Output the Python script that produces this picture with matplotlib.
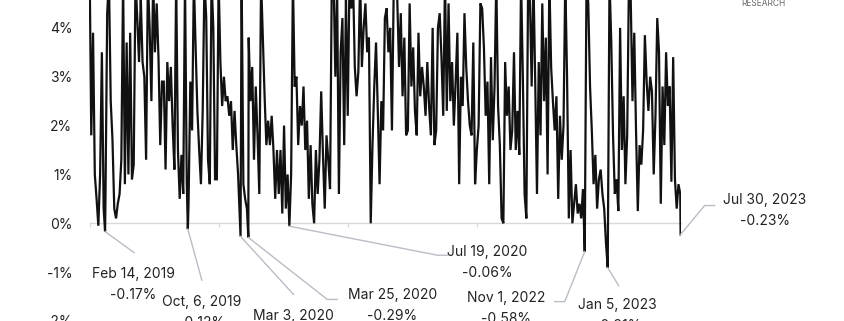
import pandas as pd
import numpy as np
import matplotlib.pyplot as plt
import matplotlib.dates as mdates
from matplotlib.lines import Line2D
from matplotlib.transforms import IdentityTransform

plt.rcParams['font.family'] = ['Inter', 'DejaVu Sans']

# rate (%) every 5 days from 2019-01-01 (tops are clipped)
start_date = '2019-01-01'
rate_vals = [
    5.5, 1.8, 3.9, 1.0, 0.5, -0.05,
    1.0, 3.5, 0.3, 0.4, 4.3, 5.0,
    2.5, 1.7, 0.3, 0.1, 0.4, 0.6,
    1.3, 5.0, 0.8, 3.7, 1.0, 3.9,
    0.9, 1.2, 5.0, 4.2, 3.3, 4.6,
    3.3, 3.0, 1.3, 5.0, 4.0, 2.5,
    5.0, 3.5, 4.5, 3.4, 1.6, 2.9,
    2.9, 1.1, 3.3, 2.5, 3.2, 2.0,
    1.1, 5.0, 1.5, 0.5, 1.4, 0.6,
    5.0, 0.8, 0.4, 2.9, 1.9, 5.0,
    3.6, 2.3, 1.5, 0.8, 2.3, 5.0,
    4.2, 1.3, 0.8, 5.0, 4.0, 0.9,
    0.9, 5.0, 3.3, 2.4, 3.0, 2.5,
    2.6, 2.2, 2.5, 1.5, 2.3, 1.6,
    1.0, 0.1, 5.0, 0.8, 0.5, 0.3,
    3.8, 2.5, 3.2, 1.3, 2.8, 1.8,
    0.6, 5.0, 3.8, 2.6, 1.6, 2.1,
    1.6, 2.2, 1.5, 0.5, 1.5, 0.6,
    1.5, 0.2, 2.0, 0.3, 1.0, -0.06,
    1.0, 5.0, 2.8, 3.0, 1.6, 2.4,
    2.0, 2.8, 1.5, 2.1, 0.5, 1.6,
    0.4, 0.0, 1.5, 0.6, 1.3, 2.7,
    1.4, 0.3, 1.8, 1.3, 0.7, 5.0,
    5.0, 3.0, 4.8, 0.6, 3.5, 4.2,
    1.6, 4.6, 2.2, 5.0, 4.4, 5.0,
    3.2, 2.6, 3.1, 5.0, 3.2, 4.0,
    4.5, 3.5, 3.8, 0.0, 1.6, 2.8,
    3.7, 2.3, 0.8, 2.5, 1.9, 4.2,
    4.4, 3.5, 4.0, 1.9, 4.8, 5.0,
    4.6, 3.2, 4.3, 2.6, 3.8, 1.8,
    1.9, 4.5, 2.8, 3.6, 2.3, 1.8,
    3.9, 2.6, 3.2, 2.8, 2.2, 3.3,
    2.4, 1.8, 4.0, 1.6, 1.9, 4.0,
    4.3, 3.4, 2.2, 5.0, 2.3, 4.5,
    2.5, 3.3, 2.0, 2.9, 3.9, 0.8,
    3.0, 2.4, 4.3, 3.2, 2.5, 2.0,
    1.8, 3.7, 0.8, 1.5, 2.0, 4.5,
    4.4, 3.6, 2.2, 2.9, 0.8, 3.4,
    1.7, 2.8, 5.0, 2.4, 1.6, 0.1,
    0.0, 3.3, 2.2, 2.8, 1.5, 1.9,
    3.5, 1.5, 2.3, 1.4, 5.0, 3.0,
    0.6, 0.1, 5.0, 4.6, 2.8, 5.0,
    2.9, 0.6, 3.3, 1.8, 4.5, 2.5,
    3.8, 1.0, 5.0, 3.2, 2.5, 1.9,
    2.6, 0.5, 2.2, 1.3, 2.0, 5.0,
    3.0, 0.1, 1.5, 0.0, 0.4, 0.8,
    0.2, 0.4, 0.1, 0.7, -0.58, 5.0,
    4.5, 2.8, 1.9, 0.8, 1.4, 0.3,
    0.9, 1.1, 0.6, 0.3, -0.4, -0.91,
    5.0, 3.7, 1.8, 0.6, 0.9, 0.25,
    4.0, 1.5, 2.6, 0.8, 1.8, 5.0,
    4.6, 2.5, 3.9, 1.9, 0.25, 1.6,
    1.2, 1.9, 3.85, 2.9, 2.3, 3.0,
    2.7, 1.0, 2.2, 4.2, 3.5, 0.4,
    2.8, 1.6, 3.5, 2.4, 2.8, 0.85,
    3.4, 0.9, 0.3, 0.8, 0.6,
]

# labelled negative days
low_dates = ['2019-02-14', '2019-10-06', '2020-03-03', '2020-03-25',
             '2020-07-19', '2022-11-01', '2023-01-05', '2023-07-30']
low_vals = [-0.17, -0.12, -0.27, -0.29, -0.06, -0.58, -0.91, -0.23]
low_labels = ['Feb 14, 2019', 'Oct, 6, 2019', 'Mar 3, 2020', 'Mar 25, 2020',
              'Jul 19, 2020', 'Nov 1, 2022', 'Jan 5, 2023', 'Jul 30, 2023']

yticks = [-2, -1, 0, 1, 2, 3, 4]
year_ticks = ['2019-01-01', '2020-01-01', '2021-01-01', '2022-01-01', '2023-01-01']

s = pd.Series(rate_vals, index=pd.date_range(start_date, periods=len(rate_vals), freq='5D'))
lows = pd.Series(low_vals, index=pd.to_datetime(low_dates))
s = pd.concat([s[~s.index.isin(lows.index)], lows]).sort_index()

W, H = 845, 321
fig = plt.figure(figsize=(W / 100, H / 100), dpi=100)
ax = fig.add_axes([89.5 / W, 0, 591.1 / W, 1])

ax.plot(s.index, s.values, color='#111111', lw=1.6, zorder=3, solid_joinstyle='miter')
ax.set_xlim(pd.Timestamp(start_date), pd.Timestamp('2023-07-30'))
ax.set_ylim(-1.90, 4.57)

ax.set_yticks(yticks)
ax.set_yticklabels([f'{t}%' for t in yticks], fontsize=10, color='#222222')
ax.tick_params(axis='y', length=0, pad=12.5)

ax.set_xticks(pd.to_datetime(year_ticks))
ax.tick_params(axis='x', length=3, color='#d8d8d8', labelbottom=False)

for side in ['top', 'right', 'left']:
    ax.spines[side].set_visible(False)
ax.spines['bottom'].set_position(('data', 0))
ax.spines['bottom'].set_color('#d8d8d8')
ax.spines['bottom'].set_linewidth(1)

# callout layout, pixel offsets from the point (y downward): elbow, line end, text centre
callouts = [
    ((29, 21), (29, 21), (28, 53)),
    ((14, 51), (14, 51), (14, 83)),
    ((53, 58), (53, 58), (53, 90)),
    ((79, 62), (89, 62), (144, 68)),
    ((148, 29), (158, 29), (198, 36)),
    ((-20, 50), (-30, 50), (-79, 57)),
    ((11, 18), (11, 18), (10, 48)),
    ((24, -29), (34, -29), (84, -24)),
]

grey = '#b9bdc4'
for d, v, lab, (elb, end, txt) in zip(lows.index, lows.values, low_labels, callouts):
    px, py = ax.transData.transform((mdates.date2num(d), v))
    xs = [px, px + elb[0], px + end[0]]
    ys = [py, py - elb[1], py - end[1]]
    fig.add_artist(Line2D(xs, ys, transform=IdentityTransform(), color=grey, lw=1.0))
    ax.annotate(f'{lab}\n{v:.2f}%', xy=(d, v), xytext=(txt[0], -txt[1]),
                textcoords='offset pixels', ha='center', va='center',
                fontsize=10, color='#222222', linespacing=1.65,
                annotation_clip=False)

fig.text(763 / W, 1 - 4 / H, 'RESEARCH', ha='center', va='center',
         fontsize=6, color='#666666')

fig.savefig('out.png', dpi=100)
